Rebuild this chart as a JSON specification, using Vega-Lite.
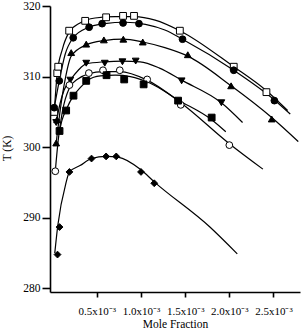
{
  "$schema": "https://vega.github.io/schema/vega-lite/v6.json",
  "autosize": {"type": "none"},
  "width": 250,
  "height": 286,
  "padding": {"left": 50, "top": 6, "right": 2, "bottom": 37},
  "background": "white",
  "config": {
    "view": {"stroke": null},
    "font": "Liberation Serif",
    "axis": {"grid": false, "domainColor": "black", "tickColor": "black", "labelColor": "black", "titleColor": "black", "labelFont": "Liberation Serif", "titleFont": "Liberation Serif", "titleFontWeight": "normal", "domainWidth": 1.6, "tickWidth": 1.6}
  },
  "datasets": {
    "curves": [
      {"s": "A", "x": 0.018, "t": 305.0}, {"s": "A", "x": 0.052, "t": 310.5}, {"s": "A", "x": 0.108, "t": 313.8}, {"s": "A", "x": 0.187, "t": 316.3}, {"s": "A", "x": 0.31, "t": 317.6}, {"s": "A", "x": 0.48, "t": 318.3}, {"s": "A", "x": 0.71, "t": 318.5}, {"s": "A", "x": 0.93, "t": 318.5}, {"s": "A", "x": 1.16, "t": 318.0}, {"s": "A", "x": 1.44, "t": 316.5}, {"s": "A", "x": 2.05, "t": 311.4}, {"s": "A", "x": 2.42, "t": 308.0}, {"s": "A", "x": 2.66, "t": 305.2},
      {"s": "B", "x": 0.018, "t": 305.6}, {"s": "B", "x": 0.075, "t": 309.4}, {"s": "B", "x": 0.14, "t": 313.1}, {"s": "B", "x": 0.233, "t": 315.5}, {"s": "B", "x": 0.41, "t": 317.0}, {"s": "B", "x": 0.59, "t": 317.5}, {"s": "B", "x": 0.82, "t": 317.7}, {"s": "B", "x": 1.05, "t": 317.4}, {"s": "B", "x": 1.27, "t": 316.6}, {"s": "B", "x": 1.47, "t": 315.3}, {"s": "B", "x": 2.05, "t": 310.9}, {"s": "B", "x": 2.51, "t": 306.7}, {"s": "B", "x": 2.69, "t": 304.7},
      {"s": "C", "x": 0.04, "t": 300.6}, {"s": "C", "x": 0.086, "t": 305.3}, {"s": "C", "x": 0.14, "t": 309.5}, {"s": "C", "x": 0.21, "t": 312.9}, {"s": "C", "x": 0.38, "t": 314.5}, {"s": "C", "x": 0.58, "t": 315.1}, {"s": "C", "x": 0.8, "t": 315.3}, {"s": "C", "x": 1.02, "t": 314.9}, {"s": "C", "x": 1.27, "t": 314.1}, {"s": "C", "x": 1.53, "t": 312.9}, {"s": "C", "x": 2.02, "t": 308.7}, {"s": "C", "x": 2.48, "t": 304.2}, {"s": "C", "x": 2.78, "t": 300.8},
      {"s": "D", "x": 0.04, "t": 303.5}, {"s": "D", "x": 0.086, "t": 306.3}, {"s": "D", "x": 0.13, "t": 308.1}, {"s": "D", "x": 0.2, "t": 309.5}, {"s": "D", "x": 0.29, "t": 310.9}, {"s": "D", "x": 0.38, "t": 311.8}, {"s": "D", "x": 0.59, "t": 312.1}, {"s": "D", "x": 0.79, "t": 312.2}, {"s": "D", "x": 0.99, "t": 312.1}, {"s": "D", "x": 1.21, "t": 311.2}, {"s": "D", "x": 1.46, "t": 309.5}, {"s": "D", "x": 1.91, "t": 306.3}, {"s": "D", "x": 2.15, "t": 303.5},
      {"s": "E", "x": 0.03, "t": 296.6}, {"s": "E", "x": 0.063, "t": 301.0}, {"s": "E", "x": 0.108, "t": 304.9}, {"s": "E", "x": 0.19, "t": 308.4}, {"s": "E", "x": 0.29, "t": 309.7}, {"s": "E", "x": 0.41, "t": 310.4}, {"s": "E", "x": 0.57, "t": 310.7}, {"s": "E", "x": 0.76, "t": 310.7}, {"s": "E", "x": 1.07, "t": 309.5}, {"s": "E", "x": 1.45, "t": 306.3}, {"s": "E", "x": 2.0, "t": 300.5}, {"s": "E", "x": 2.38, "t": 296.9},
      {"s": "F", "x": 0.078, "t": 302.3}, {"s": "F", "x": 0.108, "t": 303.9}, {"s": "F", "x": 0.153, "t": 305.3}, {"s": "F", "x": 0.236, "t": 307.3}, {"s": "F", "x": 0.31, "t": 308.4}, {"s": "F", "x": 0.4, "t": 309.5}, {"s": "F", "x": 0.54, "t": 310.1}, {"s": "F", "x": 0.71, "t": 310.2}, {"s": "F", "x": 0.88, "t": 310.0}, {"s": "F", "x": 1.1, "t": 309.1}, {"s": "F", "x": 1.42, "t": 306.7}, {"s": "F", "x": 1.8, "t": 303.9}, {"s": "F", "x": 1.96, "t": 302.2},
      {"s": "G", "x": 0.024, "t": 285.0}, {"s": "G", "x": 0.058, "t": 288.9}, {"s": "G", "x": 0.15, "t": 294.9}, {"s": "G", "x": 0.19, "t": 296.5}, {"s": "G", "x": 0.31, "t": 297.4}, {"s": "G", "x": 0.44, "t": 298.4}, {"s": "G", "x": 0.605, "t": 298.7}, {"s": "G", "x": 0.74, "t": 298.6}, {"s": "G", "x": 1.0, "t": 296.8}, {"s": "G", "x": 1.15, "t": 295.1}, {"s": "G", "x": 1.78, "t": 288.7}, {"s": "G", "x": 2.09, "t": 284.9}
    ],
    "points": [
      {"s": "A", "x": 0.018, "t": 305.0}, {"s": "A", "x": 0.052, "t": 310.5}, {"s": "A", "x": 0.063, "t": 311.4}, {"s": "A", "x": 0.187, "t": 316.5}, {"s": "A", "x": 0.368, "t": 317.9}, {"s": "A", "x": 0.605, "t": 318.4}, {"s": "A", "x": 0.797, "t": 318.6}, {"s": "A", "x": 0.921, "t": 318.6}, {"s": "A", "x": 1.44, "t": 316.5}, {"s": "A", "x": 2.05, "t": 311.4}, {"s": "A", "x": 2.42, "t": 307.8},
      {"s": "B", "x": 0.018, "t": 305.6}, {"s": "B", "x": 0.075, "t": 309.4}, {"s": "B", "x": 0.233, "t": 315.5}, {"s": "B", "x": 0.413, "t": 317.0}, {"s": "B", "x": 0.56, "t": 317.5}, {"s": "B", "x": 0.797, "t": 317.6}, {"s": "B", "x": 0.977, "t": 317.5}, {"s": "B", "x": 1.47, "t": 315.3}, {"s": "B", "x": 2.05, "t": 310.9}, {"s": "B", "x": 2.51, "t": 306.6},
      {"s": "C", "x": 0.04, "t": 300.6}, {"s": "C", "x": 0.05, "t": 303.9}, {"s": "C", "x": 0.21, "t": 313.4}, {"s": "C", "x": 0.38, "t": 314.6}, {"s": "C", "x": 0.58, "t": 315.2}, {"s": "C", "x": 0.8, "t": 315.3}, {"s": "C", "x": 1.02, "t": 314.9}, {"s": "C", "x": 1.53, "t": 313.1}, {"s": "C", "x": 2.02, "t": 308.7}, {"s": "C", "x": 2.48, "t": 304.0},
      {"s": "D", "x": 0.04, "t": 303.5}, {"s": "D", "x": 0.2, "t": 309.5}, {"s": "D", "x": 0.38, "t": 311.9}, {"s": "D", "x": 0.59, "t": 311.9}, {"s": "D", "x": 0.79, "t": 312.1}, {"s": "D", "x": 0.94, "t": 312.2}, {"s": "D", "x": 1.46, "t": 309.4}, {"s": "D", "x": 1.91, "t": 306.3},
      {"s": "E", "x": 0.03, "t": 296.6}, {"s": "E", "x": 0.19, "t": 308.8}, {"s": "E", "x": 0.41, "t": 310.5}, {"s": "E", "x": 0.57, "t": 310.9}, {"s": "E", "x": 0.76, "t": 310.9}, {"s": "E", "x": 1.07, "t": 309.6}, {"s": "E", "x": 1.45, "t": 306.0}, {"s": "E", "x": 2.0, "t": 300.3},
      {"s": "F", "x": 0.078, "t": 302.3}, {"s": "F", "x": 0.153, "t": 305.2}, {"s": "F", "x": 0.236, "t": 307.3}, {"s": "F", "x": 0.38, "t": 309.4}, {"s": "F", "x": 0.61, "t": 310.2}, {"s": "F", "x": 0.81, "t": 309.6}, {"s": "F", "x": 1.03, "t": 308.9}, {"s": "F", "x": 1.42, "t": 306.6}, {"s": "F", "x": 1.8, "t": 304.2},
      {"s": "G", "x": 0.055, "t": 284.8}, {"s": "G", "x": 0.078, "t": 288.7}, {"s": "G", "x": 0.19, "t": 296.5}, {"s": "G", "x": 0.44, "t": 298.4}, {"s": "G", "x": 0.605, "t": 298.7}, {"s": "G", "x": 0.72, "t": 298.7}, {"s": "G", "x": 1.0, "t": 296.5}, {"s": "G", "x": 1.15, "t": 294.9}
    ]
  },
  "layer": [
    {
      "data": {"name": "curves"},
      "mark": {"type": "line", "interpolate": "monotone", "color": "black", "strokeWidth": 1.2},
      "encoding": {
        "x": {"field": "x", "type": "quantitative", "scale": {"domain": [-0.03, 2.8], "nice": false, "zero": false},
          "axis": {"values": [0.5, 1.0, 1.5, 2.0, 2.5], "labelExpr": "format(datum.value, '.1f') + 'x10⁻³'", "labelFontSize": 11, "tickSize": 5, "labelPadding": 8, "title": "Mole Fraction", "titleFontSize": 11.5, "titlePadding": 2}},
        "y": {"field": "t", "type": "quantitative", "scale": {"domain": [279.5, 320], "nice": false, "zero": false},
          "axis": {"values": [280, 290, 300, 310, 320], "labelFontSize": 11.5, "tickSize": 8, "labelPadding": 2, "title": "T (K)", "titleFontSize": 11.5, "titleX": -43, "titleY": 142, "titleAlign": "center", "titleBaseline": "middle", "titleAngle": -90}},
        "detail": {"field": "s", "type": "nominal"}
      }
    },
    {
      "data": {"name": "points"},
      "mark": {"type": "point", "filled": true, "stroke": "black", "strokeWidth": 1, "opacity": 1, "size": 46},
      "encoding": {
        "x": {"field": "x", "type": "quantitative"},
        "y": {"field": "t", "type": "quantitative"},
        "shape": {"field": "s", "type": "nominal", "legend": null, "scale": {"domain": ["A", "B", "C", "D", "E", "F", "G"], "range": ["square", "circle", "triangle-up", "triangle-down", "circle", "square", "diamond"]}},
        "fill": {"field": "s", "type": "nominal", "legend": null, "scale": {"domain": ["A", "B", "C", "D", "E", "F", "G"], "range": ["white", "black", "black", "black", "white", "black", "black"]}}
      }
    }
  ]
}
